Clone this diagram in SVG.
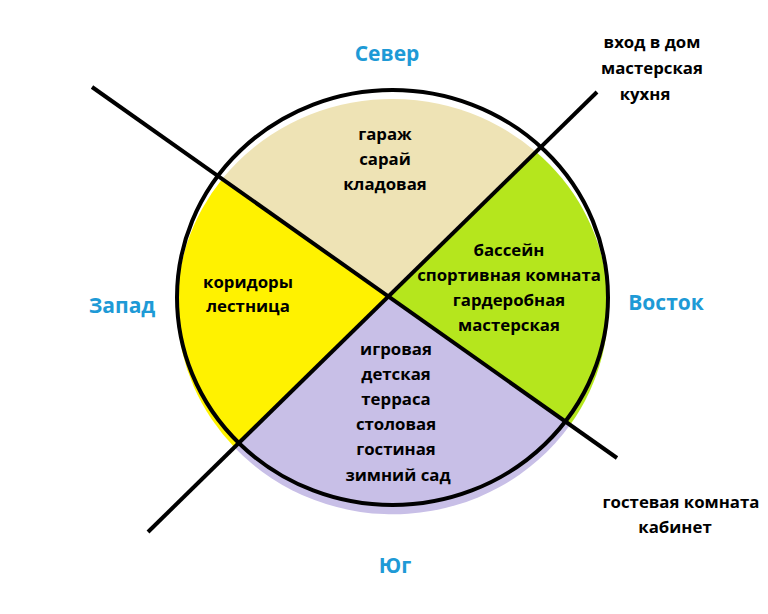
<svg xmlns="http://www.w3.org/2000/svg" width="768" height="614" viewBox="0 0 768 614">
<style>
.t{font-family:"Open Sans","Liberation Sans",sans-serif;font-weight:bold;font-size:16.8px;fill:#000;text-anchor:middle}
.d{font-family:"Open Sans","Liberation Sans",sans-serif;font-weight:bold;font-size:21px;fill:#1e9ad6;text-anchor:middle}
.s{stroke:none}
</style>
<rect width="768" height="614" fill="#fff"/>
<g id="sectors">
<path id="north" class="s" fill="#eee3b5" d="M388,296 L223,178 A215.5,207.5 0 0 1 535,151 Z"/>
<path id="east" class="s" fill="#b5e61d" d="M388,296 L535,151 A215.5,207.5 0 0 1 570,425 Z"/>
<path id="south" class="s" fill="#c8bfe7" d="M388,296 L570,425 A215.5,207.5 0 0 1 235,448 Z"/>
<path id="west" class="s" fill="#fff200" d="M388,296 L235,448 A215.5,207.5 0 0 1 223,178 Z"/>
<ellipse cx="392.5" cy="297.5" rx="215.5" ry="207.5" fill="none" stroke="#000" stroke-width="4"/>
</g>
<g id="connectors" stroke="#000" stroke-width="4">
<line x1="92" y1="87" x2="617" y2="458"/>
<line x1="148" y1="532" x2="597" y2="92"/>
</g>
<g id="n-north" class="t"><text x="385" y="140">гараж</text><text x="385" y="165">сарай</text><text x="385" y="190">кладовая</text></g>
<g id="n-west" class="t"><text x="248" y="288">коридоры</text><text x="248" y="312">лестница</text></g>
<g id="n-east" class="t"><text x="509" y="256">бассейн</text><text x="509" y="281">спортивная комната</text><text x="509" y="306">гардеробная</text><text x="509" y="331">мастерская</text></g>
<g id="n-south" class="t"><text x="396" y="355">игровая</text><text x="396" y="380">детская</text><text x="396" y="405">терраса</text><text x="396" y="430">столовая</text><text x="396" y="455">гостиная</text><text x="398" y="481">зимний сад</text></g>
<g id="n-ne" class="t"><text x="652" y="48">вход в дом</text><text x="652" y="74">мастерская</text><text x="645" y="100">кухня</text></g>
<g id="n-se" class="t"><text x="681" y="508">гостевая комната</text><text x="675" y="533">кабинет</text></g>
<g id="dirs" class="d"><text x="387" y="61">Север</text><text x="122" y="313">Запад</text><text x="666" y="310">Восток</text><text x="395" y="573">Юг</text></g>
</svg>
